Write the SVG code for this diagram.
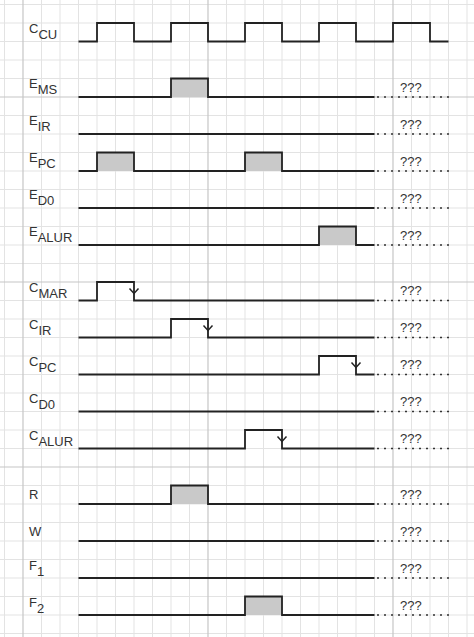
<svg xmlns="http://www.w3.org/2000/svg" xmlns:xlink="http://www.w3.org/1999/xlink" width="474" height="637" viewBox="0 0 474 637">
<style>
.minor{stroke:#e3e3e3;stroke-width:1;fill:none}
.major{stroke:#c6c6c6;stroke-width:1.2;fill:none}
.sig{stroke:#222;stroke-width:1.8;fill:none;stroke-linejoin:miter}
.dot{stroke:#333;stroke-width:1.5;fill:none;stroke-dasharray:2 5}
.sh{fill:#c9c9c9;stroke:none}
.lbl{font-family:"Liberation Sans",Arial,sans-serif;font-size:13px;fill:#333}
.q{font-family:"Liberation Sans",Arial,sans-serif;font-size:13px;fill:#333}
.arr{stroke:#222;stroke-width:1.5;fill:none}
</style>
<defs>
<path id="arr" class="arr" d="M-4.5,-5 L0,0 L4.5,-5"/>
</defs>
<rect width="474" height="637" fill="#fff"/>
<g id="grid">
<path class="minor" d="M4.5,0V637M41.5,0V637M60,0V637M78.5,0V637M97,0V637M115.5,0V637M134,0V637M152.5,0V637M171,0V637M189.5,0V637M226.5,0V637M245,0V637M263.5,0V637M282,0V637M300.5,0V637M319,0V637M337.5,0V637M356,0V637M374.5,0V637M411.5,0V637M430,0V637M448.5,0V637M467,0V637"/>
<path class="minor" d="M0,4.5H474M0,23H474M0,41.5H474M0,60H474M0,78.5H474M0,115.5H474M0,134H474M0,152.5H474M0,171H474M0,189.5H474M0,208H474M0,226.5H474M0,245H474M0,263.5H474M0,300.5H474M0,319H474M0,337.5H474M0,356H474M0,374.5H474M0,393H474M0,411.5H474M0,430H474M0,448.5H474M0,485.5H474M0,504H474M0,522.5H474M0,541H474M0,559.5H474M0,578H474M0,596.5H474M0,615H474M0,633.5H474"/>
<path class="major" d="M23,0V637M208,0V637M393,0V637M0,97H474M0,282H474M0,467H474"/>
</g>
<g id="connectors">
<path id="w-ccu" class="sig" d="M78.5,41.5H97V23H134V41.5H171V23H208V41.5H245V23H282V41.5H319V23H356V41.5H393V23H430V41.5H448.5"/>
</g>
<g id="CCU"><text class="lbl" x="29" y="32.5">C<tspan dy="6.5">CU</tspan></text></g>

<g id="EMS">
<rect class="sh" x="171" y="78.5" width="37" height="18.5"/>
<path class="sig" d="M78.5,97H171V78.5H208V97H374.5"/>
<path class="dot" d="M377,97H449"/>
<text class="lbl" x="29" y="88">E<tspan dy="6">MS</tspan></text>
<text class="q" x="400" y="91.5">???</text>
</g>
<g id="EIR">
<path class="sig" d="M78.5,134H374.5"/>
<path class="dot" d="M377,134H449"/>
<text class="lbl" x="29" y="125">E<tspan dy="6">IR</tspan></text>
<text class="q" x="400" y="128.5">???</text>
</g>
<g id="EPC">
<rect class="sh" x="97" y="152.5" width="37" height="18.5"/>
<rect class="sh" x="245" y="152.5" width="37" height="18.5"/>
<path class="sig" d="M78.5,171H97V152.5H134V171H245V152.5H282V171H374.5"/>
<path class="dot" d="M377,171H449"/>
<text class="lbl" x="29" y="162">E<tspan dy="6">PC</tspan></text>
<text class="q" x="400" y="165.5">???</text>
</g>
<g id="ED0">
<path class="sig" d="M78.5,208H374.5"/>
<path class="dot" d="M377,208H449"/>
<text class="lbl" x="29" y="199">E<tspan dy="6">D0</tspan></text>
<text class="q" x="400" y="202.5">???</text>
</g>
<g id="EALUR">
<rect class="sh" x="319" y="226.5" width="37" height="18.5"/>
<path class="sig" d="M78.5,245H319V226.5H356V245H374.5"/>
<path class="dot" d="M377,245H449"/>
<text class="lbl" x="29" y="236">E<tspan dy="6">ALUR</tspan></text>
<text class="q" x="400" y="239.5">???</text>
</g>

<g id="CMAR">
<path class="sig" d="M78.5,300.5H97V282H134V300.5H374.5"/>
<use xlink:href="#arr" x="134" y="293.5"/>
<path class="dot" d="M377,300.5H449"/>
<text class="lbl" x="29" y="291.5">C<tspan dy="6">MAR</tspan></text>
<text class="q" x="400" y="295">???</text>
</g>
<g id="CIR">
<path class="sig" d="M78.5,337.5H171V319H208V337.5H374.5"/>
<use xlink:href="#arr" x="208" y="330.5"/>
<path class="dot" d="M377,337.5H449"/>
<text class="lbl" x="29" y="328.5">C<tspan dy="6">IR</tspan></text>
<text class="q" x="400" y="332">???</text>
</g>
<g id="CPC">
<path class="sig" d="M78.5,374.5H319V356H356V374.5H374.5"/>
<use xlink:href="#arr" x="356" y="367.5"/>
<path class="dot" d="M377,374.5H449"/>
<text class="lbl" x="29" y="365.5">C<tspan dy="6">PC</tspan></text>
<text class="q" x="400" y="369">???</text>
</g>
<g id="CD0">
<path class="sig" d="M78.5,411.5H374.5"/>
<path class="dot" d="M377,411.5H449"/>
<text class="lbl" x="29" y="402.5">C<tspan dy="6">D0</tspan></text>
<text class="q" x="400" y="406">???</text>
</g>
<g id="CALUR">
<path class="sig" d="M78.5,448.5H245V430H282V448.5H374.5"/>
<use xlink:href="#arr" x="282" y="441.5"/>
<path class="dot" d="M377,448.5H449"/>
<text class="lbl" x="29" y="439.5">C<tspan dy="6">ALUR</tspan></text>
<text class="q" x="400" y="443">???</text>
</g>

<g id="R">
<rect class="sh" x="171" y="485.5" width="37" height="18.5"/>
<path class="sig" d="M78.5,504H171V485.5H208V504H374.5"/>
<path class="dot" d="M377,504H449"/>
<text class="lbl" x="29" y="498.5">R</text>
<text class="q" x="400" y="498.5">???</text>
</g>
<g id="W">
<path class="sig" d="M78.5,541H374.5"/>
<path class="dot" d="M377,541H449"/>
<text class="lbl" x="29" y="535.5">W</text>
<text class="q" x="400" y="535.5">???</text>
</g>
<g id="F1">
<path class="sig" d="M78.5,578H374.5"/>
<path class="dot" d="M377,578H449"/>
<text class="lbl" x="29" y="570">F<tspan dy="5.5">1</tspan></text>
<text class="q" x="400" y="572.5">???</text>
</g>
<g id="F2">
<rect class="sh" x="245" y="596.5" width="37" height="18.5"/>
<path class="sig" d="M78.5,615H245V596.5H282V615H374.5"/>
<path class="dot" d="M377,615H449"/>
<text class="lbl" x="29" y="607">F<tspan dy="5.5">2</tspan></text>
<text class="q" x="400" y="609.5">???</text>
</g>
</svg>
